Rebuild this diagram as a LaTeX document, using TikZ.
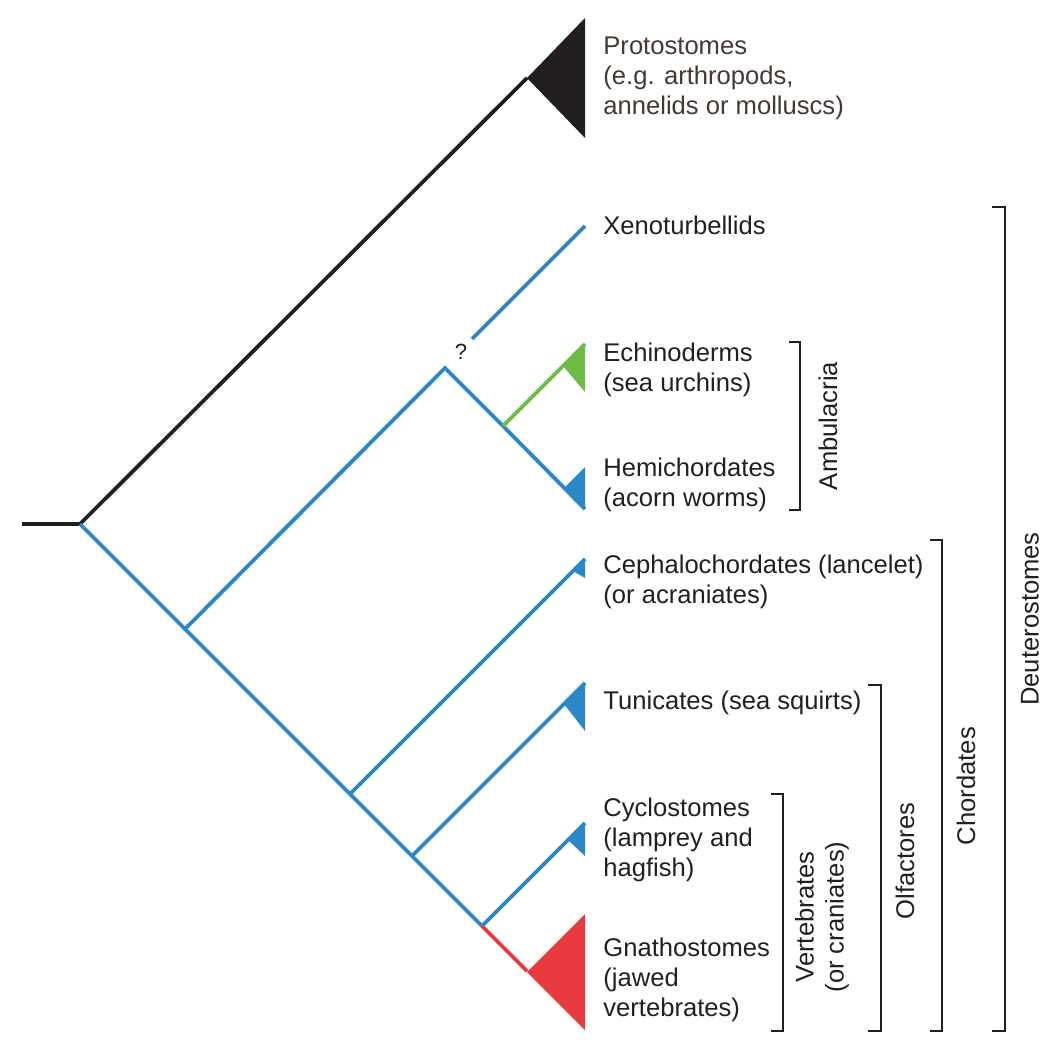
\documentclass[tikz,border=0pt]{standalone}
\usepackage{fontspec}
\setmainfont{Liberation Sans}
\definecolor{tblue}{RGB}{43,135,200}
\definecolor{tgreen}{RGB}{108,189,69}
\definecolor{tred}{RGB}{232,57,63}
\definecolor{tblack}{RGB}{35,31,32}
\definecolor{tbrown}{RGB}{70,56,50}
\begin{document}
\begin{tikzpicture}[x=0.5pt,y=-0.5pt]
\useasboundingbox (0,0) rectangle (1050,1054);
\tikzset{
  branch/.style={line width=1.9pt},
  bracketline/.style={line width=0.9pt, draw=tblack},
  taxon/.style={anchor=west, align=left, font=\fontsize{12.8}{15}\selectfont, text=tblack, inner sep=0pt},
  cladelabel/.style={rotate=90, align=center, font=\fontsize{12.8}{15}\selectfont, text=tblack, inner sep=0pt},
}
% branch points
\coordinate (stub) at (22,524);
\coordinate (root) at (80,524);
\coordinate (proto) at (527,78);
\coordinate (n1) at (185,629);
\coordinate (amb) at (445,368);
\coordinate (xs) at (472,339);
\coordinate (xe) at (585,226);
\coordinate (eb) at (503,426);
\coordinate (ech) at (585,344);
\coordinate (hem) at (585,509);
\coordinate (n2) at (350,794);
\coordinate (ceph) at (585,559);
\coordinate (n3) at (412,856);
\coordinate (tun) at (585,683);
\coordinate (n4) at (482,926);
\coordinate (cyc) at (585,823);
\coordinate (gna) at (527,971);

% triangles
\fill[tblack] (527,78) -- (585,18) -- (585,138) -- cycle;
\fill[tgreen] (563,366) -- (585,344) -- (585,392) -- cycle;
\fill[tblue] (564,488) -- (585,467) -- (585,509) -- cycle;
\fill[tblue] (573,571) -- (585,559) -- (585,578) -- cycle;
\fill[tblue] (564,704) -- (585,683) -- (585,731) -- cycle;
\fill[tblue] (568,840) -- (585,823) -- (585,856) -- cycle;
\fill[tred] (527,972) -- (585,914) -- (585,1030) -- cycle;

% branches
\draw[branch, tblack] (stub) -- (root) -- (proto);
\draw[branch, tblue] (root) -- (n1) -- (n2) -- (n3) -- (n4);
\draw[branch, tblue] (n1) -- (amb) -- (eb) -- (hem);
\draw[branch, tblue] (xs) -- (xe);
\draw[branch, tgreen] (eb) -- (ech);
\draw[branch, tblue] (n2) -- (ceph);
\draw[branch, tblue] (n3) -- (tun);
\draw[branch, tblue] (n4) -- (cyc);
\draw[branch, tred] (n4) -- (gna);

\node[font=\fontsize{11}{13}\selectfont, text=tblack] (q) at (461,352) {?};

% taxa
\node[taxon, text=tbrown] (tProto) at (603,78) {Protostomes\\(e.g. arthropods,\\annelids or molluscs)};
\node[taxon] (tXeno) at (603,225) {Xenoturbellids};
\node[taxon] (tEch) at (603,370) {Echinoderms\\(sea urchins)};
\node[taxon] (tHem) at (603,485) {Hemichordates\\(acorn worms)};
\node[taxon] (tCeph) at (603,582) {Cephalochordates (lancelet)\\(or acraniates)};
\node[taxon] (tTun) at (603,703) {Tunicates (sea squirts)};
\node[taxon] (tCyc) at (603,840) {Cyclostomes\\(lamprey and\\hagfish)};
\node[taxon] (tGna) at (603,980) {Gnathostomes\\(jawed\\vertebrates)};

% brackets
\draw[bracketline] (789,342) -- (800,342) -- (800,510) -- (789,510);
\node[cladelabel] (lAmb) at (828,426) {Ambulacria};
\draw[bracketline] (771,794) -- (783,794) -- (783,1031) -- (771,1031);
\node[cladelabel] (lVert) at (822,917) {Vertebrates\\(or craniates)};
\draw[bracketline] (868,685) -- (881,685) -- (881,1031) -- (868,1031);
\node[cladelabel] (lOlf) at (905,861) {Olfactores};
\draw[bracketline] (930,540) -- (942,540) -- (942,1031) -- (930,1031);
\node[cladelabel] (lChord) at (966,786) {Chordates};
\draw[bracketline] (992,207) -- (1005,207) -- (1005,1031) -- (992,1031);
\node[cladelabel] (lDeut) at (1030,619) {Deuterostomes};
\end{tikzpicture}
\end{document}
